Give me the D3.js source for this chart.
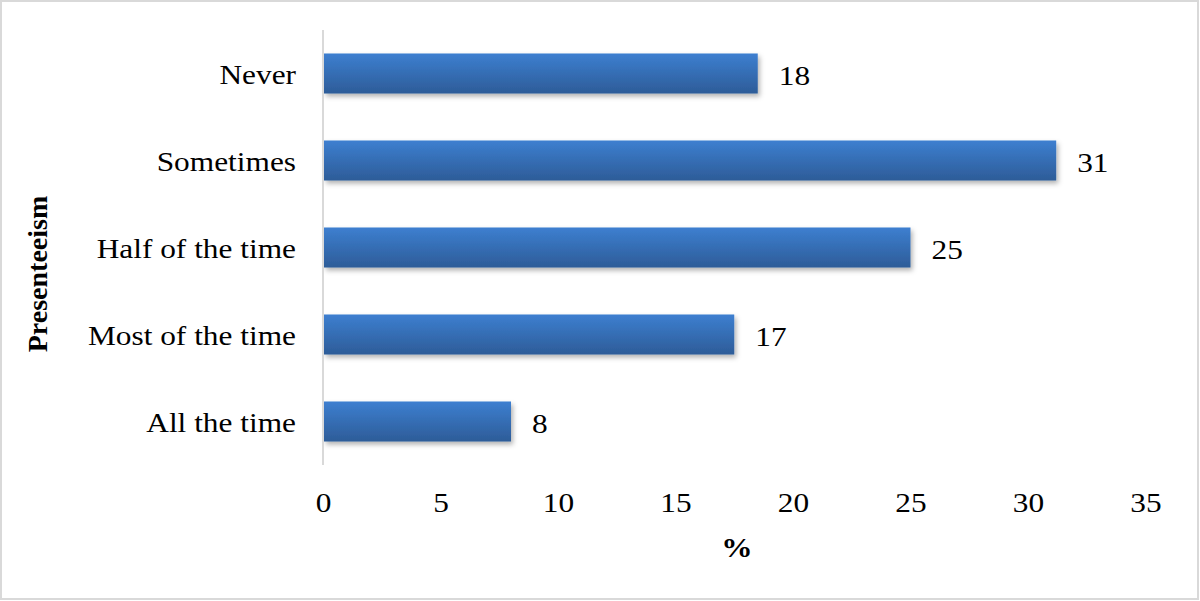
<!DOCTYPE html>
<html><head><meta charset="utf-8">
<script src="https://cdn.jsdelivr.net/npm/d3@7"></script>
<style>
html,body{margin:0;padding:0;background:#fff;}
svg{display:block;}
text{font-family:"Liberation Serif","Times New Roman",serif;fill:#000;}
</style></head>
<body><svg id="c" width="1200" height="601"></svg>
<script>
const categories = ["Never","Sometimes","Half of the time","Most of the time","All the time"];
const values = [18.5, 31.2, 25.0, 17.5, 8.0];
const valueLabels = ["18","31","25","17","8"];
const xTicks = [0,5,10,15,20,25,30,35];

(function(){
const svg = d3.select("#c");
const W = 1200, H = 601, FS = 28, SX = 1.12;
svg.append("rect").attr("x",1).attr("y",1).attr("width",W-3).attr("height",H-3)
  .attr("fill","#fff").attr("stroke","#d9d9d9").attr("stroke-width",2);

const defs = svg.append("defs");
const g = defs.append("linearGradient").attr("id","bg").attr("x1",0).attr("y1",0).attr("x2",0).attr("y2",1);
g.append("stop").attr("offset","0%").attr("stop-color","#3d7fd0");
g.append("stop").attr("offset","100%").attr("stop-color","#2d5c98");
const f = defs.append("filter").attr("id","sh").attr("x","-10%").attr("y","-30%").attr("width","130%").attr("height","180%");
f.append("feDropShadow").attr("dx",2).attr("dy",3).attr("stdDeviation",2.5).attr("flood-color","#000").attr("flood-opacity",0.3);

const pl = 323, pr = 1145.5, pt = 30, pb = 465;
const x = d3.scaleLinear().domain([0,35]).range([pl,pr]);
const y = d3.scaleBand().domain(categories).range([pt,pb]).paddingInner(0.54).paddingOuter(0.27);

function stretch(sel){
  sel.attr("transform", function(){
    const t = d3.select(this);
    const ax = +t.attr("x") || 0, ay = +t.attr("y") || 0;
    return `translate(${ax},${ay}) scale(${SX},1) translate(${-ax},${-ay})`;
  });
}

svg.append("g").selectAll("rect").data(categories).join("rect")
  .attr("x", x(0)+1).attr("y", d=>y(d))
  .attr("width", (d,i)=>x(values[i])-x(0)-1).attr("height", y.bandwidth())
  .attr("fill","url(#bg)").attr("filter","url(#sh)");

svg.append("line").attr("x1",pl).attr("x2",pl).attr("y1",pt).attr("y2",pb)
  .attr("stroke","#d9d9d9").attr("stroke-width",2);

svg.append("g").selectAll("text").data(categories).join("text")
  .attr("x",(d,i)=>x(values[i])+21).attr("y",d=>y(d)+y.bandwidth()/2+2)
  .attr("dy","0.35em").attr("font-size",FS).text((d,i)=>valueLabels[i]).call(stretch);

const ya = d3.axisLeft(y).tickSize(0).tickPadding(27);
const yg = svg.append("g").attr("transform",`translate(${pl},2)`).call(ya);
yg.select(".domain").remove();
yg.selectAll("text").attr("font-size",FS).attr("font-family",'"Liberation Serif",serif').attr("fill","#000").call(stretch);

const xa = d3.axisBottom(x).tickValues(xTicks).tickSize(0).tickPadding(27);
const xg = svg.append("g").attr("transform",`translate(0,${pb})`).call(xa);
xg.select(".domain").remove();
xg.selectAll("text").attr("font-size",FS).attr("font-family",'"Liberation Serif",serif').attr("fill","#000").call(stretch);

svg.append("text").attr("x",737).attr("y",557).attr("text-anchor","middle")
  .attr("font-size",FS).attr("font-weight","bold").text("%").call(stretch);
svg.append("text").attr("transform","translate(47,274) rotate(-90)").attr("text-anchor","middle")
  .attr("font-size",FS).attr("font-weight","bold").text("Presenteeism");
})();
</script></body></html>
